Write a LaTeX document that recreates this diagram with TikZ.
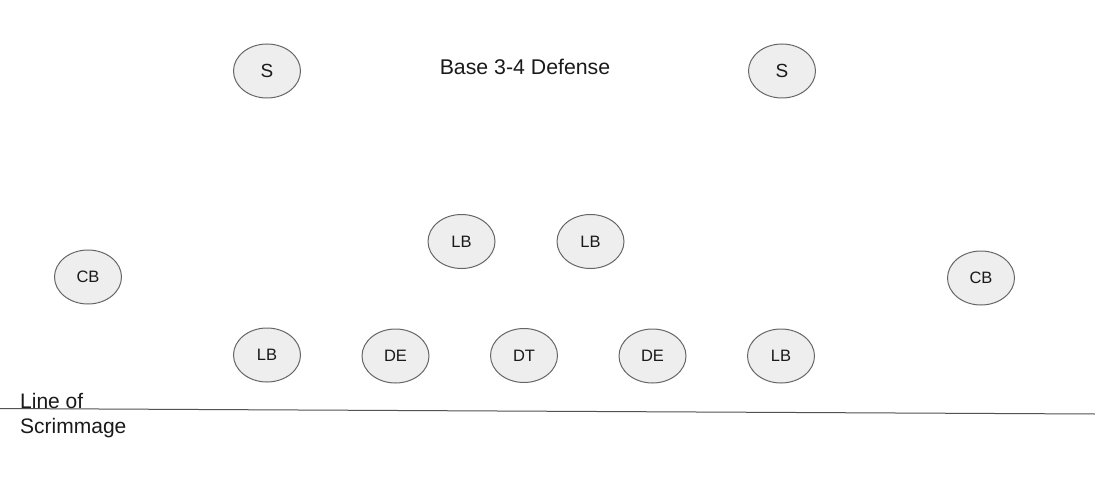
\documentclass[tikz,border=0pt]{standalone}
\usepackage{fontspec}
\setmainfont{Liberation Sans}
\usetikzlibrary{shapes.geometric}
\definecolor{pfill}{HTML}{EEEEEE}
\definecolor{pline}{HTML}{666666}
\definecolor{ptext}{HTML}{1A1A1A}
\begin{document}
\begin{tikzpicture}[x=1pt,y=-1pt,
  player/.style={ellipse,draw=pline,fill=pfill,line width=1pt,minimum width=67pt,minimum height=54pt,inner sep=0pt,text=ptext,font=\fontsize{16.5}{19}\selectfont},
  safety/.style={player,font=\fontsize{19}{22}\selectfont},
  lbl/.style={text=ptext,inner sep=0pt}]
\useasboundingbox (0,0) rectangle (1095,500);
\fill[white] (0,0) rectangle (1095,500);
% title
\node[lbl,anchor=base,font=\fontsize{21.3}{25}\selectfont] (title) at (525,75) {Base 3-4 Defense};
% safeties
\node[safety] (s1) at (267,71) {S};
\node[safety] (s2) at (782,71) {S};
% inside linebackers
\node[player] (lb1) at (461.5,241.5) {LB};
\node[player] (lb2) at (590.5,241.5) {LB};
% corners
\node[player] (cb1) at (88,277) {CB};
\node[player] (cb2) at (981,278) {CB};
% front
\node[player] (lb3) at (267,355) {LB};
\node[player] (de1) at (395.5,356) {DE};
\node[player] (dt) at (524,355.5) {DT};
\node[player] (de2) at (652.5,356) {DE};
\node[player] (lb4) at (781,356) {LB};
% line of scrimmage
\coordinate (los1) at (0,408.5);
\coordinate (los2) at (1095,414);
\draw[pline!80!black,line width=1pt] (los1) -- (los2);
\node[lbl,anchor=base west,align=left,font=\fontsize{21}{24.5}\selectfont] (loslabel) at (20,433) {Line of\\Scrimmage};
\end{tikzpicture}
\end{document}
